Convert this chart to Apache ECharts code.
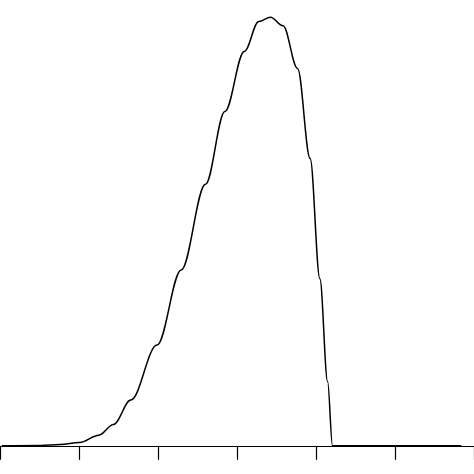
<!DOCTYPE html><html><head><meta charset="utf-8"><script src="https://cdn.jsdelivr.net/npm/echarts@6/dist/echarts.min.js"></script>
<style>html,body{margin:0;padding:0;background:#fff}#c{width:474px;height:474px}</style></head><body><div id="c"></div><script>
const xs=[-0.975,-0.485,-0.239,0.006,0.252,0.436,0.656,0.988,1.294,1.601,1.847,2.092,2.276,2.423,2.583,2.767,2.926,3.049,3.147,3.209,4.84];
const ys=[0,0.001,0.003,0.008,0.025,0.05,0.107,0.235,0.41,0.61,0.78,0.92,0.99,1,0.98,0.88,0.67,0.39,0.15,0,0];
const chart=echarts.init(document.getElementById('c'));
chart.setOption({animation:false,
grid:{left:-2,right:-13,top:0,bottom:11},
xAxis:{type:'value',min:-1,max:5,interval:1,axisLine:{lineStyle:{color:'#000',width:1.2}},axisTick:{length:14,lineStyle:{color:'#000',width:1.2}},axisLabel:{show:false},splitLine:{show:false}},
yAxis:{type:'value',min:-0.04,max:1.04,show:false},
series:[{type:'line',data:xs.map((x,i)=>[x,ys[i]]),smooth:0.35,smoothMonotone:'x',symbol:'none',lineStyle:{color:'#000',width:1.5}}]});
</script></body></html>
